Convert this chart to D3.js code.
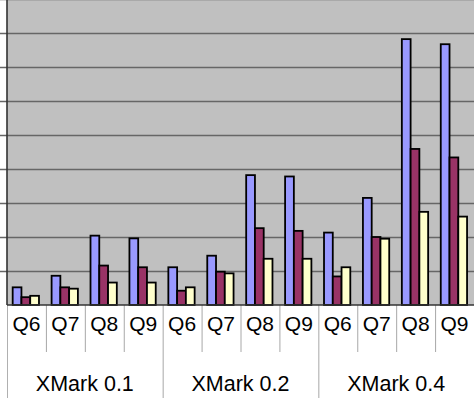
<!DOCTYPE html>
<html>
<head>
<meta charset="utf-8">
<script src="https://cdn.jsdelivr.net/npm/d3@7"></script>
<style>
  body { margin: 0; background: #fff; }
  svg { display: block; }
</style>
</head>
<body>
<script>
// data (gridline step = 10)
const groups = ["XMark 0.1", "XMark 0.2", "XMark 0.4"];
const queries = ["Q6", "Q7", "Q8", "Q9"];
const seriesNames = ["s1", "s2", "s3"];
const seriesColors = ["#9999ff", "#993366", "#ffffcc"];
const s1 = [5.2, 8.6, 20.4, 19.6, 11.1, 14.5, 38.2, 37.8, 21.3, 31.5, 78.2, 76.7];
const s2 = [2.3, 5.2, 11.6, 11.1, 4.2, 9.8, 22.6, 21.8, 8.4, 20.0, 45.9, 43.4];
const s3 = [2.7, 4.8, 6.6, 6.6, 5.2, 9.3, 13.6, 13.6, 11.1, 19.5, 27.4, 26.0];
const yTicks = [0, 10, 20, 30, 40, 50, 60, 70, 80, 90];

const width = 474, height = 398;
const plotLeft = 7, plotRight = 474, plotTop = -1, plotBottom = 305;

const cats = groups.flatMap(g => queries.map(q => g + "|" + q));
const rows = cats.map((c, i) => ({cat: c, q: c.split("|")[1], vals: [s1[i], s2[i], s3[i]]}));

const x = d3.scaleBand().domain(cats).range([plotLeft, plotRight]).padding(0);
const xs = d3.scaleBand().domain(seriesNames).range([0, x.bandwidth()])
    .paddingInner(0).paddingOuter(0.72).align(0.45);
const y = d3.scaleLinear().domain([0, 90]).range([plotBottom, plotTop]);

const svg = d3.select("body").append("svg")
    .attr("width", width)
    .attr("height", height);

// plot area
svg.append("rect")
    .attr("x", plotLeft).attr("y", 0)
    .attr("width", plotRight - plotLeft).attr("height", plotBottom)
    .attr("fill", "#c0c0c0");

// gridlines + little ticks left of the axis
svg.append("g")
  .selectAll("line")
  .data(yTicks.slice(1))
  .join("line")
    .attr("x1", 0).attr("x2", plotRight)
    .attr("y1", d => Math.round(y(d)) + 0.5)
    .attr("y2", d => Math.round(y(d)) + 0.5)
    .attr("stroke", "#666")
    .attr("stroke-width", 1.5);

// bars
const cat = svg.append("g")
  .selectAll("g")
  .data(rows)
  .join("g")
    .attr("transform", d => `translate(${x(d.cat)},0)`);

cat.selectAll("rect")
  .data(d => d.vals.map((v, i) => ({key: seriesNames[i], v, i})))
  .join("rect")
    .attr("x", d => xs(d.key))
    .attr("width", xs.bandwidth())
    .attr("y", d => y(d.v))
    .attr("height", d => plotBottom - y(d.v))
    .attr("fill", d => seriesColors[d.i])
    .attr("stroke", "#000")
    .attr("stroke-width", 1.8);

// category dividers under the axis
svg.append("g")
  .selectAll("line")
  .data(cats.map((c, i) => i).filter(i => i % 4 !== 0))
  .join("line")
    .attr("x1", i => x(cats[i]) + 0.5).attr("x2", i => x(cats[i]) + 0.5)
    .attr("y1", plotBottom).attr("y2", 352)
    .attr("stroke", "#a8a8a8");

// group dividers
svg.append("g")
  .selectAll("line")
  .data(groups.slice(1))
  .join("line")
    .attr("x1", g => x(g + "|" + queries[0]) + 0.5)
    .attr("x2", g => x(g + "|" + queries[0]) + 0.5)
    .attr("y1", plotBottom).attr("y2", height)
    .attr("stroke", "#a8a8a8");

svg.append("line")
    .attr("x1", plotLeft + 0.5).attr("x2", plotLeft + 0.5)
    .attr("y1", plotBottom).attr("y2", height)
    .attr("stroke", "#b0b0b0");

// axes lines
svg.append("line")
    .attr("x1", plotLeft).attr("x2", plotLeft)
    .attr("y1", 0).attr("y2", plotBottom)
    .attr("stroke", "#333")
    .attr("stroke-width", 1.6);

svg.append("line")
    .attr("x1", plotLeft).attr("x2", plotRight)
    .attr("y1", plotBottom).attr("y2", plotBottom)
    .attr("stroke", "#333")
    .attr("stroke-width", 1.6);

// labels
svg.append("g")
    .attr("font-family", "'Liberation Sans', Arial, sans-serif")
    .attr("font-size", 21)
    .attr("text-anchor", "middle")
  .selectAll("text")
  .data(rows)
  .join("text")
    .attr("x", d => x(d.cat) + x.bandwidth() / 2)
    .attr("y", 330.5)
    .text(d => d.q);

svg.append("g")
    .attr("font-family", "'Liberation Sans', Arial, sans-serif")
    .attr("font-size", 21.5)
    .attr("text-anchor", "middle")
  .selectAll("text")
  .data(groups)
  .join("text")
    .attr("x", g => (x(g + "|" + queries[0]) + x(g + "|" + queries[3]) + x.bandwidth()) / 2)
    .attr("y", 390.5)
    .text(g => g);
</script>
</body>
</html>
